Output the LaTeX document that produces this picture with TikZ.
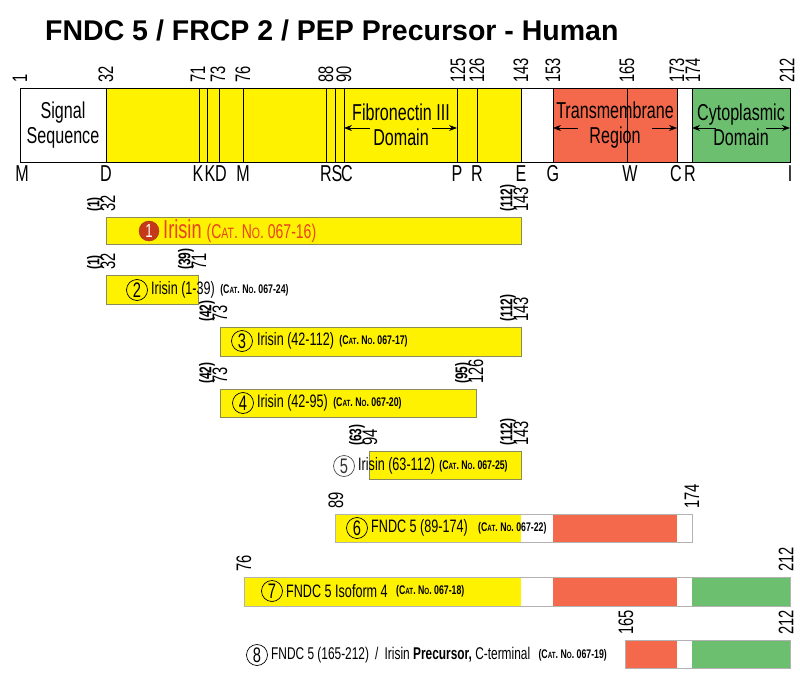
\documentclass[tikz,border=0pt]{standalone}
\usepackage{fontspec}
\setmainfont{Liberation Sans}[FakeStretch=0.7]
\newfontfamily\titlefont{Liberation Sans}
\usetikzlibrary{arrows.meta}
\definecolor{yel}{HTML}{FFF200}
\definecolor{tmr}{HTML}{F4694B}
\definecolor{grn}{HTML}{6CBF6E}
\definecolor{bdr}{HTML}{8A8A5A}
\definecolor{lbl}{HTML}{E8431F}
\newcommand{\catno}[1]{(C{\fontsize{9}{9}\selectfont AT}. N{\fontsize{9}{9}\selectfont O}. #1)}
\begin{document}
\begin{tikzpicture}[x=1pt,y=-1pt,
  seg/.style={draw=bdr,line width=0.8pt},
  num/.style={rotate=90,anchor=west,inner sep=1pt,font=\fontsize{21}{21}\selectfont},
  bnum/.style={rotate=90,anchor=west,inner sep=1pt,font=\fontsize{17}{17}\selectfont\bfseries},
  aa/.style={anchor=north,inner sep=1pt,font=\fontsize{23}{23}\selectfont},
  dom/.style={align=center,font=\fontsize{23}{25}\selectfont},
  circ/.style={circle,draw,line width=0.7pt,inner sep=0pt,minimum size=21pt,font=\fontsize{21}{21}\selectfont},
  bl/.style={anchor=west,inner sep=1pt,font=\fontsize{18}{18}\selectfont},
  cat/.style={anchor=west,inner sep=1pt,font=\fontsize{12.5}{12.5}\selectfont\bfseries},
  arr/.style={-{Stealth[length=8pt,width=6pt]},line width=0.8pt}]
\useasboundingbox (0,0) rectangle (800,679);
\node[anchor=west,font=\titlefont\bfseries\fontsize{28.5}{28.5}\selectfont,inner sep=0] (title) at (45,30) {FNDC 5 / FRCP 2 / PEP Precursor - Human};
% main bar
\fill[white] (20,88) rectangle (106,162);
\fill[yel] (106,88) rectangle (521,162);
\fill[tmr] (553,88) rectangle (677,162);
\fill[grn] (692,88) rectangle (790,162);
\draw[line width=0.8pt] (20,88) rectangle (790,162);
\foreach \x in {106,199,207,219,243,326,335,344,457,477,521,553,627,677,692}
  \draw[line width=0.7pt] (\x,88) -- (\x,162);
\node[dom] (sig) at (63,125) {Signal\\Sequence};
\node[dom] (fib) at (401,125) {Fibronectin III\\Domain};
\node[dom] (tm) at (615,125) {Transmembrane\\Region};
\node[dom] (cyt) at (741,125) {Cytoplasmic\\Domain};
\coordinate (fa1) at (370,128); \coordinate (fa2) at (344,128);
\coordinate (fb1) at (432,128); \coordinate (fb2) at (457,128);
\draw[arr] (fa1) -- (fa2); \draw[arr] (fb1) -- (fb2);
\coordinate (ta1) at (578,128); \coordinate (ta2) at (553,128);
\coordinate (tb1) at (652,128); \coordinate (tb2) at (677,128);
\draw[arr] (ta1) -- (ta2); \draw[arr] (tb1) -- (tb2);
\coordinate (ca1) at (716,128); \coordinate (ca2) at (692,128);
\coordinate (cb1) at (766,128); \coordinate (cb2) at (790,128);
\draw[arr] (ca1) -- (ca2); \draw[arr] (cb1) -- (cb2);
% top numbers
\foreach \x/\n in {20/1,106/32,198/71,218/73,243/76,326/88,344/90,458/125,477/126,521/143,553/153,627/165,677/173,693/174,787/212}
  \node[num] at (\x,84) {\n};
% letters
\foreach \x/\l in {22/M,106/D,198/K,210/K,221/D,243/M,326/R,337/S,347/C,457/P,477/R,521/E,553/G,630/W,676/C,690/R,790/I}
  \node[aa] at (\x,164) {\l};
% bar 1
\fill[yel,draw=bdr] (106,217) rectangle (521,244);
\node[bnum] at (95,213) {(1)}; \node[num] at (108,213) {32};
\node[bnum] at (508,213) {(112)}; \node[num] at (521,213) {143};
\node[circle,fill=lbl!85!black,draw=lbl!70!black,inner sep=0,minimum size=20pt,text=white,font=\fontsize{19}{19}\selectfont] (c1) at (149,231) {1};
\node[anchor=west,inner sep=1pt,text=lbl,font=\fontsize{26}{26}\selectfont] (l1) at (162,231) {Irisin \fontsize{20}{20}\selectfont(C\fontsize{15}{15}\selectfont AT\fontsize{20}{20}\selectfont. N\fontsize{15}{15}\selectfont O\fontsize{20}{20}\selectfont. 067-16)};
% bar 2
\fill[yel,draw=bdr] (106,275) rectangle (198,304);
\node[bnum] at (95,271) {(1)}; \node[num] at (108,271) {32};
\node[bnum] at (186,271) {(39)}; \node[num] at (199,271) {71};
\node[circ] (c2) at (137,290) {2};
\node[bl] (l2) at (150,290) {Irisin (1-39)}; \node[cat] (k2) at ([xshift=3pt]l2.east) {\catno{067-24}};
% bar 3
\fill[yel,draw=bdr] (220,327) rectangle (521,356);
\node[bnum] at (207,323) {(42)}; \node[num] at (220,323) {73};
\node[bnum] at (508,323) {(112)}; \node[num] at (521,323) {143};
\node[circ] (c3) at (242,341) {3};
\node[bl] (l3) at (256,341) {Irisin (42-112)}; \node[cat] (k3) at ([xshift=3pt]l3.east) {\catno{067-17}};
% bar 4
\fill[yel,draw=bdr] (220,389) rectangle (476,417);
\node[bnum] at (463,385) {(95)}; \node[num] at (476,385) {126};
\node[bnum] at (207,385) {(42)}; \node[num] at (220,385) {73};
\node[circ] (c4) at (243,403) {4};
\node[bl] (l4) at (256,403) {Irisin (42-95)}; \node[cat] (k4) at ([xshift=3pt]l4.east) {\catno{067-20}};
% bar 5
\fill[yel,draw=bdr] (369,451) rectangle (521,479);
\node[bnum] at (357,447) {(63)}; \node[num] at (370,447) {94};
\node[bnum] at (508,447) {(112)}; \node[num] at (521,447) {143};
\node[circ,draw=black!70,text=black!80] (c5) at (344,466) {5};
\node[bl] (l5) at (357,466) {Irisin (63-112)}; \node[cat] (k5) at ([xshift=2pt]l5.east) {\catno{067-25}};
% bar 6
\fill[yel] (335,514) rectangle (521,542);
\fill[white] (521,514) rectangle (553,542);
\fill[tmr] (553,514) rectangle (677,542);
\draw[black!30] (335,514) rectangle (692,542);
\node[num] at (336,510) {89}; \node[num] at (692,510) {174};
\node[circ] (c6) at (357,528) {6};
\node[bl] (l6) at (370,528) {FNDC 5 (89-174)}; \node[cat] (k6) at ([xshift=8pt]l6.east) {\catno{067-22}};
% bar 7
\fill[yel] (244,577) rectangle (521,606);
\fill[white] (521,577) rectangle (553,606);
\fill[tmr] (553,577) rectangle (677,606);
\fill[grn] (692,577) rectangle (790,606);
\draw[black!30] (244,577) rectangle (790,606);
\node[num] at (244,573) {76}; \node[num] at (786,573) {212};
\node[circ] (c7) at (272,591) {7};
\node[bl] (l7) at (285,591) {FNDC 5 Isoform 4}; \node[cat] (k7) at ([xshift=6pt]l7.east) {\catno{067-18}};
% bar 8
\fill[tmr] (625,640) rectangle (677,668);
\fill[white] (677,640) rectangle (692,668);
\fill[grn] (692,640) rectangle (790,668);
\draw[black!30] (625,640) rectangle (790,668);
\node[num] at (626,636) {165}; \node[num] at (786,636) {212};
\node[circ] (c8) at (257,655) {8};
\node[bl,font=\fontsize{17}{17}\selectfont] (l8) at (270,655) {FNDC 5 (165-212) \,/\, Irisin {\bfseries Precursor,} C-terminal}; \node[cat] (k8) at ([xshift=6pt]l8.east) {\catno{067-19}};
\end{tikzpicture}
\end{document}
